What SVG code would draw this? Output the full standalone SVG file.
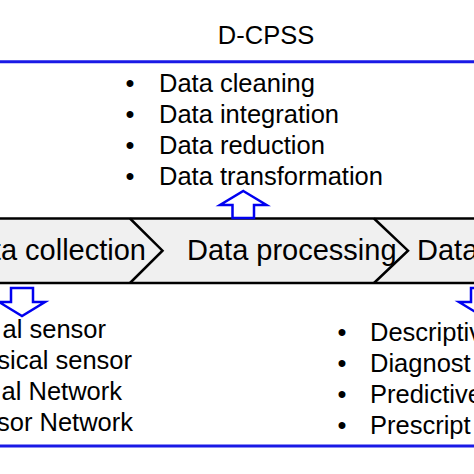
<svg xmlns="http://www.w3.org/2000/svg" width="474" height="474" viewBox="0 0 474 474">
  <style>
    .t { font-family: "Liberation Sans", Arial, sans-serif; fill: #000; }
    .list { font-size: 25.5px; }
    .stage { font-size: 29px; }
    .sep { stroke: #1a1ae6; stroke-width: 3; fill: none; }
    .arr { fill: #fff; stroke: #0000f0; stroke-width: 2.5; stroke-linejoin: miter; }
    .chev { fill: none; stroke: #000; stroke-width: 2.5; }
  </style>
  <rect width="474" height="474" fill="#fff"/>

  <g id="title">
    <text class="t list" x="266" y="44" text-anchor="middle">D-CPSS</text>
    <line class="sep" x1="-5" y1="61.7" x2="479" y2="61.7"/>
  </g>

  <g id="processing-list" class="t list">
    <text x="130" y="92" text-anchor="middle">•</text>
    <text x="159" y="92">Data cleaning</text>
    <text x="130" y="123" text-anchor="middle">•</text>
    <text x="159" y="123">Data integration</text>
    <text x="130" y="154" text-anchor="middle">•</text>
    <text x="159" y="154">Data reduction</text>
    <text x="130" y="185" text-anchor="middle">•</text>
    <text x="159" y="185">Data transformation</text>
  </g>

  <g id="band">
    <rect x="-5" y="218.5" width="484" height="64.5" fill="#f0f0f0" stroke="#000" stroke-width="2.5"/>
  </g>

  <g id="stage-collection">
    <polyline class="chev" points="130,218.5 162.5,250.7 130,283"/>
    <text class="t stage" x="146" y="260" text-anchor="end">ta collection</text>
  </g>

  <g id="stage-processing">
    <polyline class="chev" points="374,218.5 408,250.7 374,283"/>
    <text class="t stage" x="187" y="260">Data processing</text>
  </g>

  <g id="stage-analytics">
    <text class="t stage" x="417" y="260">Data</text>
  </g>

  <g id="connectors">
    <polygon class="arr" points="243.3,191 266.5,205 254,205 254,218 232.5,218 232.5,205 220,205"/>
    <polygon class="arr" points="11,288 33,288 33,302 45,302 22,316 -1,302 11,302"/>
    <polygon class="arr" points="471,288 493,288 493,302 505,302 482,316 459,302 471,302"/>
  </g>

  <g id="collection-list" class="t list">
    <text x="106" y="338" text-anchor="end">al sensor</text>
    <text x="132" y="369" text-anchor="end">sical sensor</text>
    <text x="122" y="400" text-anchor="end">al Network</text>
    <text x="133" y="431" text-anchor="end">sor Network</text>
  </g>

  <g id="analytics-list" class="t list">
    <text x="342" y="341" text-anchor="middle">•</text>
    <text x="370" y="341">Descriptiv</text>
    <text x="342" y="372" text-anchor="middle">•</text>
    <text x="370" y="372">Diagnost</text>
    <text x="342" y="403" text-anchor="middle">•</text>
    <text x="370" y="403">Predictive</text>
    <text x="342" y="434" text-anchor="middle">•</text>
    <text x="370" y="434">Prescript</text>
  </g>

  <g id="footer">
    <line class="sep" x1="-5" y1="446" x2="479" y2="446"/>
  </g>
</svg>
